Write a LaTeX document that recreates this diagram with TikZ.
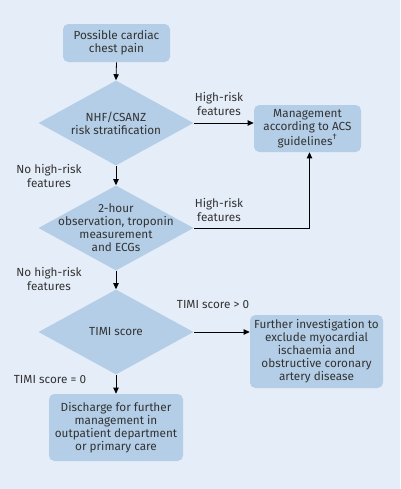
\documentclass[tikz,border=0pt]{standalone}
\usepackage{fontspec}
\setmainfont{Fira Sans}
\usetikzlibrary{shapes.geometric,arrows.meta}
\definecolor{bgc}{HTML}{E5EDF8}
\definecolor{boxc}{HTML}{B3CEE6}
\definecolor{txt}{HTML}{333333}
\begin{document}
\begin{tikzpicture}[x=0.75pt,y=-0.75pt,
  font=\fontsize{8.8}{9.8}\selectfont, text=txt,
  box/.style={fill=boxc, rounded corners=4pt, align=center, inner sep=0pt},
  decision/.style={diamond, fill=boxc, minimum width=116.25pt, minimum height=63.75pt, inner sep=0pt},
  lbl/.style={align=center, inner sep=0pt},
  arr/.style={draw=black, line width=0.6pt, -{Triangle[length=4.5pt,width=4pt]}}]
\useasboundingbox (0,0) rectangle (400,489);
\fill[bgc] (0,0) rectangle (400,489);

\node[box, minimum width=80.25pt, minimum height=28.5pt] (start) at (116.5,43) {Possible cardiac\\chest pain};
\node[decision, label={[lbl]center:NHF/CSANZ\\risk stratification}] (d1) at (116,123) {};
\node[box, minimum width=80.25pt, minimum height=35.25pt] (mgmt) at (307.5,128.5) {Management\\according to ACS\\guidelines\textsuperscript{†}};
\node[decision, label={[lbl]center:2-hour\\observation, troponin\\measurement\\and ECGs}] (d2) at (116,228) {};
\node[decision, label={[lbl]center:TIMI score}] (d3) at (116,332) {};
\node[box, minimum width=99.75pt, minimum height=54.75pt] (further) at (316.5,351.5) {Further investigation to\\exclude myocardial\\ischaemia and\\obstructive coronary\\artery disease};
\node[box, minimum width=100.5pt, minimum height=50.25pt] (discharge) at (116,427.5) {Discharge for further\\management in\\outpatient department\\or primary care};

\node[lbl] (l1) at (219,104) {High-risk\\features};
\node[lbl] (l2) at (49,176) {No high-risk\\features};
\node[lbl] (l3) at (219,210) {High-risk\\features};
\node[lbl] (l4) at (49,279) {No high-risk\\features};
\node[lbl] (l5) at (213,305) {TIMI score > 0};
\node[lbl] (l6) at (50,380) {TIMI score = 0};

\draw[arr] (start.south) -- (d1.north);
\draw[arr] (d1.east) -- (d1.east -| mgmt.west);
\draw[arr] (d1.south) -- (d2.north);
\draw[arr] (d2.east) -| ([xshift=1.5pt]mgmt.south);
\draw[arr] (d2.south) -- (d3.north);
\draw[arr] (d3.east) -- (d3.east -| further.west);
\draw[arr] (d3.south) -- (discharge.north);
\end{tikzpicture}
\end{document}
